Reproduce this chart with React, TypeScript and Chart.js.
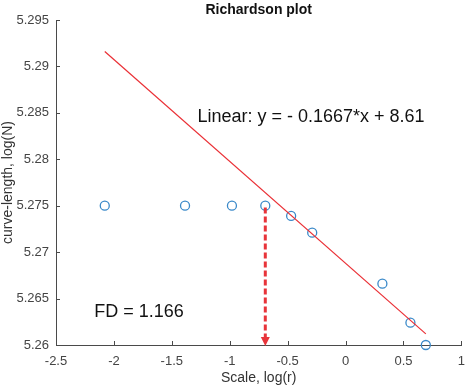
import React, { useEffect, useRef } from "react";
import { Chart, registerables } from "chart.js";

Chart.register(...registerables);

// ---- data ----
const scaleLogR = [-2.079, -1.386, -0.981, -0.693, -0.47, -0.288, 0.318, 0.56, 0.693];
const curveLengthLogN = [5.275, 5.275, 5.275, 5.275, 5.2739, 5.2721, 5.2666, 5.2624, 5.26];
const fitX = [-2.079, 0.693];
const fitY = [5.2916, 5.2612];
const xTicks = [-2.5, -2, -1.5, -1, -0.5, 0, 0.5, 1];
const yTicks = [5.26, 5.265, 5.27, 5.275, 5.28, 5.285, 5.29, 5.295];
const titleText = "Richardson plot";
const xAxisTitle = "Scale, log(r)";
const yAxisTitle = "curve-length, log(N)";
const fitLabel = "Linear: y = - 0.1667*x + 8.61";
const fitLabelPos = [-1.279, 5.2845];
const fdLabel = "FD = 1.166";
const fdLabelPos = [-2.17, 5.2635];
const arrowX = -0.693;
const arrowFromY = 5.2748;
const arrowToY = 5.26;

const FONT = "'Liberation Sans', Arial, Helvetica, sans-serif";

const overlayPlugin = {
  id: "overlay",
  afterDraw(chart: any) {
    const { ctx, chartArea, scales } = chart;
    const xs = scales.x;
    const ys = scales.y;
    ctx.save();
    // inward ticks
    ctx.strokeStyle = "#4a4a4a";
    ctx.lineWidth = 1;
    ctx.beginPath();
    yTicks.forEach((v) => {
      const py = Math.round(ys.getPixelForValue(v)) + 0.5;
      ctx.moveTo(chartArea.left, py);
      ctx.lineTo(chartArea.left + 4, py);
    });
    xTicks.forEach((v) => {
      const px = Math.round(xs.getPixelForValue(v)) + 0.5;
      ctx.moveTo(px, chartArea.bottom);
      ctx.lineTo(px, chartArea.bottom - 4);
    });
    ctx.stroke();

    // title
    ctx.fillStyle = "#111";
    ctx.font = `bold 14px ${FONT}`;
    ctx.textAlign = "center";
    ctx.textBaseline = "alphabetic";
    ctx.fillText(titleText, (chartArea.left + chartArea.right) / 2, 13.5);

    // annotations
    ctx.font = `18px ${FONT}`;
    ctx.textAlign = "left";
    ctx.textBaseline = "middle";
    ctx.fillText(fitLabel, xs.getPixelForValue(fitLabelPos[0]), ys.getPixelForValue(fitLabelPos[1]));
    ctx.fillText(fdLabel, xs.getPixelForValue(fdLabelPos[0]), ys.getPixelForValue(fdLabelPos[1]));

    // dashed arrow
    const ax = xs.getPixelForValue(arrowX);
    const y0 = ys.getPixelForValue(arrowFromY);
    const y1 = ys.getPixelForValue(arrowToY) + 1;
    ctx.strokeStyle = "#e8343a";
    ctx.fillStyle = "#e8343a";
    ctx.lineWidth = 3;
    ctx.setLineDash([6, 3]);
    ctx.beginPath();
    ctx.moveTo(ax, y0);
    ctx.lineTo(ax, y1 - 8);
    ctx.stroke();
    ctx.setLineDash([]);
    ctx.beginPath();
    ctx.moveTo(ax - 4.5, y1 - 9);
    ctx.lineTo(ax + 4.5, y1 - 9);
    ctx.lineTo(ax, y1);
    ctx.closePath();
    ctx.fill();
    ctx.restore();
  },
};

export default function App() {
  const ref = useRef<HTMLCanvasElement | null>(null);
  useEffect(() => {
    document.body.style.margin = "0";
    const canvas = ref.current;
    if (!canvas) return;
    const chart = new Chart(canvas, {
      type: "scatter",
      data: {
        datasets: [
          {
            label: "fit",
            data: fitX.map((x, i) => ({ x, y: fitY[i] })),
            showLine: true,
            borderColor: "#ea2f35",
            borderWidth: 1.2,
            pointRadius: 0,
            clip: false as any,
          },
          {
            label: "data",
            data: scaleLogR.map((x, i) => ({ x, y: curveLengthLogN[i] })),
            pointStyle: "circle",
            pointRadius: 4.5,
            pointBorderWidth: 1.3,
            borderColor: "#3a89c9",
            backgroundColor: "rgba(0,0,0,0)",
            clip: false as any,
          },
        ],
      },
      options: {
        animation: false,
        responsive: false,
        devicePixelRatio: 1,
        layout: { padding: { left: 0, top: 20, right: 5.3, bottom: 0 } },
        plugins: { legend: { display: false }, tooltip: { enabled: false }, title: { display: false } },
        scales: {
          x: {
            type: "linear",
            min: -2.5,
            max: 1,
            afterBuildTicks: (s: any) => {
              s.ticks = xTicks.map((v) => ({ value: v }));
            },
            afterFit: (s: any) => {
              s.height = 43;
            },
            grid: { display: false, drawTicks: false },
            border: { display: true, color: "#4a4a4a", width: 1 },
            ticks: {
              color: "#444",
              font: { family: FONT, size: 13 },
              padding: 9,
              maxRotation: 0,
              callback: (v: any) => String(+Number(v).toFixed(3)),
            },
            title: {
              display: true,
              text: xAxisTitle,
              color: "#333",
              font: { family: FONT, size: 14 },
              padding: { top: 0, bottom: 1 },
            },
          },
          y: {
            type: "linear",
            min: 5.26,
            max: 5.295,
            afterBuildTicks: (s: any) => {
              s.ticks = yTicks.map((v) => ({ value: v }));
            },
            afterFit: (s: any) => {
              s.width = 56;
            },
            grid: { display: false, drawTicks: false },
            border: { display: true, color: "#4a4a4a", width: 1 },
            ticks: {
              color: "#444",
              font: { family: FONT, size: 13 },
              padding: 7,
              callback: (v: any) => String(+Number(v).toFixed(4)),
            },
            title: {
              display: true,
              text: yAxisTitle,
              color: "#333",
              font: { family: FONT, size: 14 },
              padding: { top: 0, bottom: 0 },
            },
          },
        },
      },
      plugins: [overlayPlugin],
    });
    return () => chart.destroy();
  }, []);
  return (
    <div style={{ position: "fixed", left: 0, top: 0, width: 474, height: 388, background: "#fff" }}>
      <canvas ref={ref} width={474} height={388} />
    </div>
  );
}
